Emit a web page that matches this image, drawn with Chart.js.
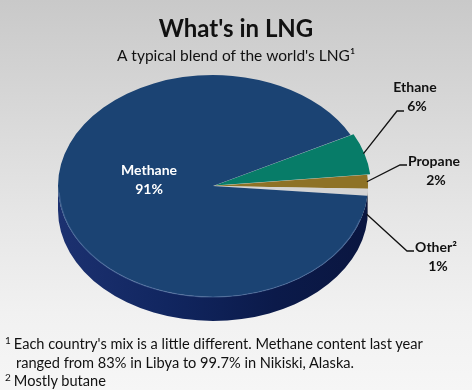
<!DOCTYPE html>
<html><head><meta charset="utf-8">
<script src="https://cdn.jsdelivr.net/npm/chart.js@4/dist/chart.umd.min.js"></script>
<style>
html,body{margin:0;padding:0;background:#fff;}
#wrap{position:relative;width:472px;height:390px;overflow:hidden;
 background:linear-gradient(180deg,#c9c9c9 0%,#d6d6d6 25%,#e6e6e6 55%,#f1f1f1 80%,#f6f6f6 100%);
 font-family:Lato,'Open Sans',sans-serif;color:#111;}
canvas{position:absolute;left:0;top:0;}
.fn{position:absolute;left:5px;font-size:14.6px;white-space:nowrap;line-height:18px;}
.fn .s{font-size:10px;position:relative;top:-5px;margin-right:3px;}
</style></head>
<body><div id="wrap"><canvas id="c" width="472" height="390"></canvas>
<div class="fn" style="top:335px"><span class="s">1</span>Each country's mix is a little different. Methane content last year</div>
<div class="fn" style="top:354px;left:16px">ranged from 83% in Libya to 99.7% in Nikiski, Alaska.</div>
<div class="fn" style="top:372px"><span class="s">2</span>Mostly butane</div>
</div>
<script>
// ---- data ----
const categories = ['Ethane', 'Propane', 'Other²', 'Methane'];
const shares = [6, 2, 1, 91];
const pctLabels = ['6%', '2%', '1%', '91%'];

// ---- styles / layout ----
const topColors  = ['#077c68', '#8e7226', '#d4d4d4', '#1b4373'];
const sideColors = ['#045a4b', '#6a541a', '#555555', '#0f2457'];
const explode = [6, 0, 0, 0];
const GEOM = {cx: 213, cy: 186, rx: 155, ry: 111, depth: 24};
// label layout: text center, elbow, end of leader
const LAB = [
  {tx: 415, ty: 87, elbow: [397, 111], end: [404, 111], side: false},
  {tx: 434, ty: 161, elbow: [400, 165], end: [407, 165], side: false},
  {tx: 436, ty: 247, elbow: [407, 251], end: [414, 251], side: true},
  {tx: 149, ty: 170, inside: true}
];

const pie3d = {
  id: 'pie3d',
  beforeDatasetsDraw(chart) {
    const meta = chart.getDatasetMeta(0);
    const ctx = chart.ctx;
    const e0 = meta.data[0].getProps(['x', 'y', 'outerRadius'], true);
    const sx = GEOM.rx / e0.outerRadius, sy = GEOM.ry / e0.outerRadius;
    chart.$p3 = {ex: e0.x, ey: e0.y, sx, sy};
    const {cx, cy, rx, ry, depth} = GEOM;
    ctx.save();
    meta.data.forEach((el, i) => {
      const p = el.getProps(['startAngle', 'endAngle'], true);
      for (let k = -1; k <= 1; k++) {
        const lo = Math.max(p.startAngle, 2 * Math.PI * k);
        const hi = Math.min(p.endAngle, 2 * Math.PI * k + Math.PI);
        if (hi <= lo) continue;
        ctx.beginPath();
        ctx.ellipse(cx, cy, rx, ry, 0, lo, hi, false);
        ctx.ellipse(cx, cy + depth, rx, ry, 0, hi, lo, true);
        ctx.closePath();
        let fill = sideColors[i];
        if (i === 3) {
          const g = ctx.createLinearGradient(cx - rx, 0, cx + rx, 0);
          g.addColorStop(0, '#1c3170');
          g.addColorStop(0.35, '#112660');
          g.addColorStop(0.7, '#0b1a4a');
          g.addColorStop(1, '#0a1640');
          fill = g;
        }
        ctx.fillStyle = fill;
        ctx.fill();
      }
    });
    ctx.restore();
    ctx.save();
    ctx.translate(cx, cy);
    ctx.scale(sx, sy);
    ctx.translate(-e0.x, -e0.y);
  },
  afterDatasetsDraw(chart) {
    const ctx = chart.ctx;
    ctx.restore();
    const meta = chart.getDatasetMeta(0);
    const {cx, cy, rx, ry, depth} = GEOM;
    ctx.save();
    ctx.beginPath();
    ctx.ellipse(cx, cy + 1, rx - 1, ry - 1, 0, 0.3, Math.PI - 0.05);
    ctx.strokeStyle = 'rgba(90,120,170,0.55)';
    ctx.lineWidth = 1.2;
    ctx.stroke();
    ctx.restore();
    ctx.save();
    meta.data.forEach((el, i) => {
      const p = el.getProps(['startAngle', 'endAngle', 'circumference'], true);
      const L = LAB[i];
      ctx.textAlign = 'center';
      ctx.textBaseline = 'middle';
      ctx.font = 'bold 14px Lato, "Open Sans", sans-serif';
      if (L.inside) {
        ctx.fillStyle = '#ffffff';
        ctx.fillText(categories[i], L.tx, L.ty);
        ctx.fillText(pctLabels[i], L.tx, L.ty + 19);
        return;
      }
      const mid = (p.startAngle + p.endAngle) / 2;
      const off = (explode[i] / 4) * (2 - Math.sin(Math.min(Math.PI, p.circumference)));
      let ax = cx + Math.cos(mid) * (rx + off * chart.$p3.sx) - 1;
      let ay = cy + Math.sin(mid) * (ry + off * chart.$p3.sy);
      if (L.side) ay += depth - 2;
      ctx.strokeStyle = '#111';
      ctx.lineWidth = 1.3;
      ctx.beginPath();
      ctx.moveTo(ax, ay);
      ctx.lineTo(L.elbow[0], L.elbow[1]);
      ctx.lineTo(L.end[0], L.end[1]);
      ctx.stroke();
      ctx.fillStyle = '#111';
      ctx.fillText(categories[i], L.tx, L.ty);
      ctx.fillText(pctLabels[i], L.tx + 2, L.ty + 19);
    });
    ctx.restore();
  }
};

new Chart(document.getElementById('c'), {
  type: 'pie',
  data: {
    labels: categories,
    datasets: [{
      data: shares,
      backgroundColor: topColors,
      borderWidth: 0,
      offset: explode
    }]
  },
  options: {
    responsive: false,
    animation: false,
    rotation: 62.6,
    layout: {padding: {top: 0, bottom: 60, left: 30, right: 30}},
    events: [],
    plugins: {
      legend: {display: false},
      tooltip: {enabled: false},
      title: {
        display: true,
        text: "What's in LNG",
        color: '#111',
        font: {family: 'Lato, "Open Sans", sans-serif', size: 24, weight: 'bold'},
        padding: {top: 15, bottom: 3}
      },
      subtitle: {
        display: true,
        text: "A typical blend of the world's LNG¹",
        color: '#111',
        font: {family: 'Lato, "Open Sans", sans-serif', size: 15.5},
        padding: {bottom: 10}
      }
    }
  },
  plugins: [pie3d]
});
</script>
</body></html>
